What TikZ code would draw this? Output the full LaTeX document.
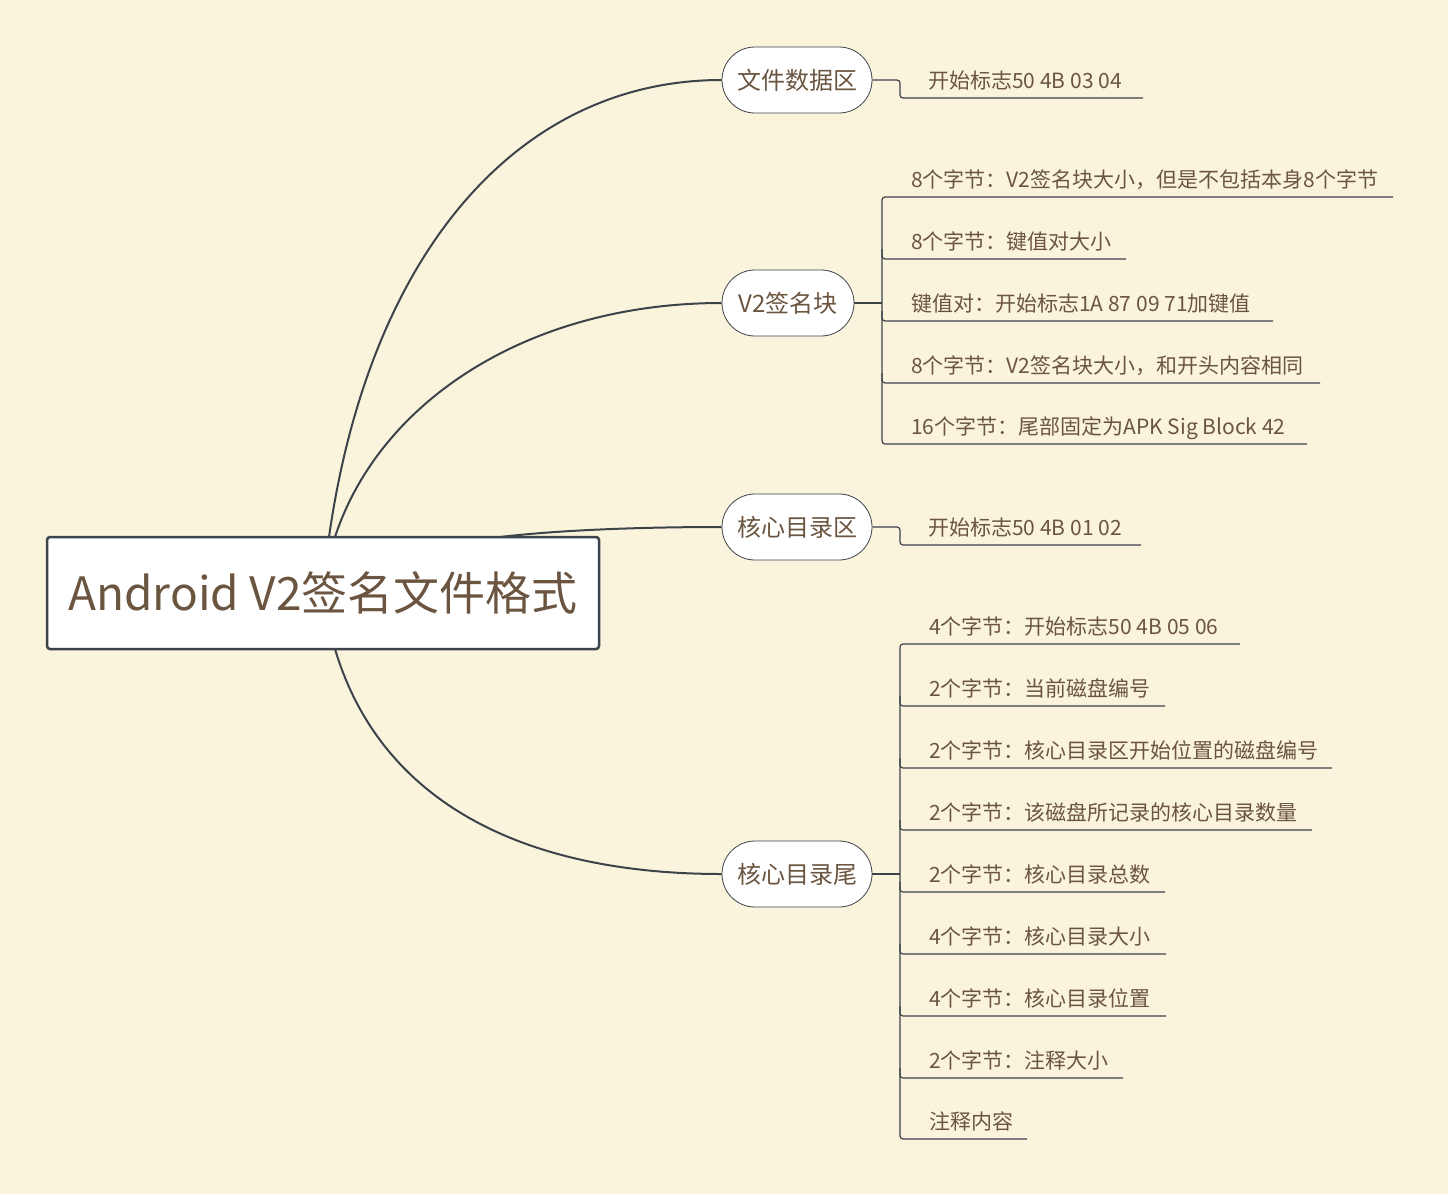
\documentclass[tikz,border=0pt]{standalone}
\usepackage{fontspec}
\setmainfont{Noto Sans CJK SC}
\definecolor{bg}{HTML}{FBF4DD}
\definecolor{tx}{HTML}{6B5540}
\definecolor{ln}{HTML}{3D434A}
\begin{document}
\begin{tikzpicture}[x=1pt,y=-1pt,
  conn/.style={draw=ln,line width=2pt},
  thin/.style={draw=ln,line width=1.2pt,rounded corners=3pt},
  branch/.style={draw=ln,line width=0.8pt,fill=white,rounded corners=33pt,minimum height=66pt,text=tx,font=\fontsize{24}{28}\selectfont,inner xsep=14pt},
  leaf/.style={anchor=base west,text=tx,font=\fontsize{21}{24}\selectfont,inner sep=0pt}]
\fill[bg] (0,0) rectangle (1448,1194);
\useasboundingbox (0,0) rectangle (1448,1194);
% root
\node[draw=ln,line width=2.5pt,fill=white,rounded corners=3pt,minimum width=552pt,minimum height=112pt,text=tx,font=\fontsize{46}{50}\selectfont] (root) at (323,593) {\raisebox{-3pt}{Android V2签名文件格式}};
% branches
\node[branch,minimum width=150pt] (b1) at (797,80) {文件数据区};
\node[branch,minimum width=132pt] (b2) at (788,303) {V2签名块};
\node[branch,minimum width=150pt] (b3) at (797,527) {核心目录区};
\node[branch,minimum width=150pt] (b4) at (797,874) {核心目录尾};
\draw[conn] (329,537) .. controls (370,250) and (520,80) .. (b1.west);
\draw[conn] (335,537) .. controls (380,400) and (530,303) .. (b2.west);
\draw[conn] (500,537) .. controls (560,530) and (640,527) .. (b3.west);
\draw[conn] (335,649) .. controls (380,800) and (520,874) .. (b4.west);
% b1
\node[leaf] (l11) at (928,88) {开始标志50 4B 03 04};
\draw[thin] (b1.east) -- (900,80) -- (900,98) -- (1143,98);
% b2
\draw[thin] (b2.east) -- (882,303);
\draw[thin] (1393,197) -- (882,197) -- (882,444) -- (1307,444);
\foreach \y/\e in {259/1126,321/1273,383/1320}{\draw[thin] (882,\y-10) -- (882,\y) -- (\e,\y);}
\node[leaf] (l21) at (911,187) {8个字节：V2签名块大小，但是不包括本身8个字节};
\node[leaf] (l22) at (911,249) {8个字节：键值对大小};
\node[leaf] (l23) at (911,311) {键值对：开始标志1A 87 09 71加键值};
\node[leaf] (l24) at (911,373) {8个字节：V2签名块大小，和开头内容相同};
\node[leaf] (l25) at (911,434) {16个字节：尾部固定为APK Sig Block 42};
% b3
\node[leaf] (l31) at (928,535) {开始标志50 4B 01 02};
\draw[thin] (b3.east) -- (900,527) -- (900,545) -- (1141,545);
% b4
\draw[thin] (b4.east) -- (900,874);
\draw[thin] (1240,644) -- (900,644) -- (900,1139) -- (1027,1139);
\foreach \y/\e in {706/1165,768/1332,830/1312,892/1165,954/1166,1016/1166,1078/1123}{\draw[thin] (900,\y-10) -- (900,\y) -- (\e,\y);}
\node[leaf] (l41) at (929,634) {4个字节：开始标志50 4B 05 06};
\node[leaf] (l42) at (929,696) {2个字节：当前磁盘编号};
\node[leaf] (l43) at (929,758) {2个字节：核心目录区开始位置的磁盘编号};
\node[leaf] (l44) at (929,820) {2个字节：该磁盘所记录的核心目录数量};
\node[leaf] (l45) at (929,882) {2个字节：核心目录总数};
\node[leaf] (l46) at (929,944) {4个字节：核心目录大小};
\node[leaf] (l47) at (929,1006) {4个字节：核心目录位置};
\node[leaf] (l48) at (929,1068) {2个字节：注释大小};
\node[leaf] (l49) at (929,1129) {注释内容};
\end{tikzpicture}
\end{document}
